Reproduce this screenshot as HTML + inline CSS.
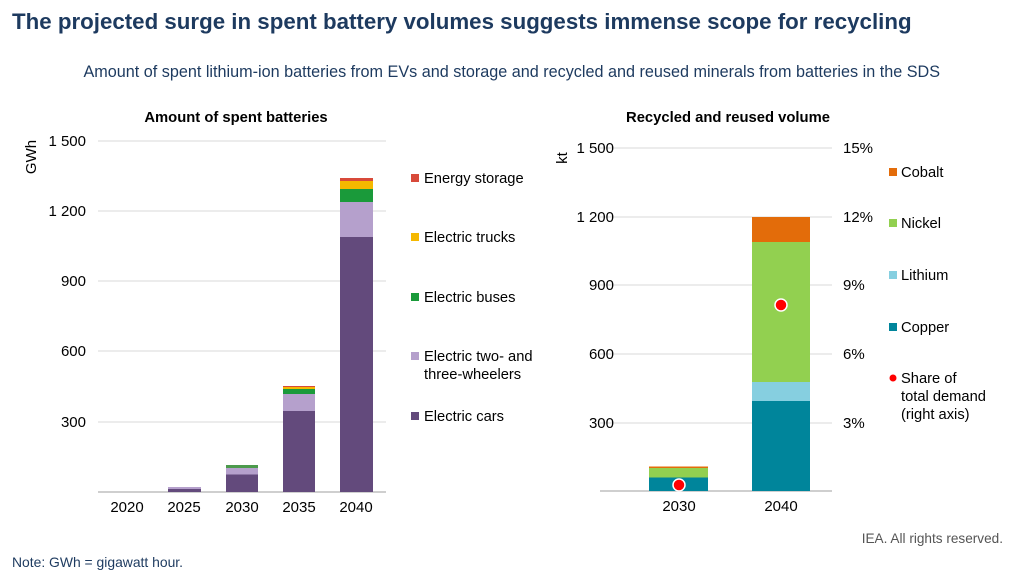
<!DOCTYPE html>
<html><head><meta charset="utf-8"><style>
body{margin:0;background:#fff;font-family:"Liberation Sans",sans-serif;}
</style></head><body>
<svg width="1024" height="583" viewBox="0 0 1024 583" xmlns="http://www.w3.org/2000/svg" font-family="Liberation Sans, sans-serif">
<rect width="1024" height="583" fill="#fff"/>
<text x="12" y="29" font-size="22.3" font-weight="bold" fill="#1d3a5f">The projected surge in spent battery volumes suggests immense scope for recycling</text>
<text x="940" y="77" font-size="16.2" fill="#1d3a5f" text-anchor="end">Amount of spent lithium-ion batteries from EVs and storage and recycled and reused minerals from batteries in the SDS</text>
<text x="236" y="122" font-size="14.8" font-weight="bold" text-anchor="middle" fill="#000">Amount of spent batteries</text>
<text x="728" y="122" font-size="14.8" font-weight="bold" text-anchor="middle" fill="#000">Recycled and reused volume</text>
<g stroke="#d9d9d9" stroke-width="1">
<line x1="98" x2="386" y1="141" y2="141"/><line x1="98" x2="386" y1="211" y2="211"/><line x1="98" x2="386" y1="281" y2="281"/><line x1="98" x2="386" y1="351" y2="351"/><line x1="98" x2="386" y1="422" y2="422"/>
</g>
<line x1="98" x2="386" y1="492" y2="492" stroke="#bfbfbf" stroke-width="1.5"/>
<g font-size="15" fill="#000" text-anchor="end">
<text x="86" y="146">1 500</text><text x="86" y="216">1 200</text><text x="86" y="286">900</text><text x="86" y="356">600</text><text x="86" y="427">300</text>
</g>
<text transform="translate(36,157) rotate(-90)" font-size="15" text-anchor="middle">GWh</text>
<g font-size="15" text-anchor="middle">
<text x="127" y="512">2020</text><text x="184" y="512">2025</text><text x="242" y="512">2030</text><text x="299" y="512">2035</text><text x="356" y="512">2040</text>
</g>
<rect x="168" y="489" width="33" height="3" fill="#634a7c"/><rect x="168" y="487" width="33" height="2" fill="#b5a0cc"/>
<rect x="226" y="474.5" width="32" height="17.5" fill="#634a7c"/><rect x="226" y="468" width="32" height="6.5" fill="#b5a0cc"/><rect x="226" y="465" width="32" height="3" fill="#4c9a4c"/>
<rect x="283" y="411" width="32" height="81" fill="#634a7c"/><rect x="283" y="394" width="32" height="17" fill="#b5a0cc"/><rect x="283" y="389" width="32" height="5" fill="#1a9a3a"/><rect x="283" y="387" width="32" height="2" fill="#f5b800"/><rect x="283" y="386" width="32" height="1" fill="#d84a3a"/>
<rect x="340" y="237" width="33" height="255" fill="#634a7c"/><rect x="340" y="202" width="33" height="35" fill="#b5a0cc"/><rect x="340" y="189" width="33" height="13" fill="#1a9a3a"/><rect x="340" y="181" width="33" height="8" fill="#f5b800"/><rect x="340" y="178" width="33" height="3" fill="#d84a3a"/>
<g font-size="14.7" fill="#000">
<rect x="411" y="174" width="8" height="8" fill="#d84a3a"/><text x="424" y="183">Energy storage</text>
<rect x="411" y="233" width="8" height="8" fill="#f5b800"/><text x="424" y="242">Electric trucks</text>
<rect x="411" y="293" width="8" height="8" fill="#1a9a3a"/><text x="424" y="302">Electric buses</text>
<rect x="411" y="352" width="8" height="8" fill="#b5a0cc"/><text x="424" y="361">Electric two- and</text><text x="424" y="379">three-wheelers</text>
<rect x="411" y="412" width="8" height="8" fill="#634a7c"/><text x="424" y="421">Electric cars</text>
</g>
<g stroke="#d9d9d9" stroke-width="1">
<line x1="600" x2="832" y1="148" y2="148"/><line x1="600" x2="832" y1="217" y2="217"/><line x1="600" x2="832" y1="285" y2="285"/><line x1="600" x2="832" y1="354" y2="354"/><line x1="600" x2="832" y1="423" y2="423"/>
</g>
<line x1="600" x2="832" y1="491" y2="491" stroke="#bfbfbf" stroke-width="1.5"/>
<g font-size="15" text-anchor="end">
<text x="614" y="153">1 500</text><text x="614" y="222">1 200</text><text x="614" y="290">900</text><text x="614" y="359">600</text><text x="614" y="428">300</text>
</g>
<g font-size="15">
<text x="843" y="153">15%</text><text x="843" y="222">12%</text><text x="843" y="290">9%</text><text x="843" y="359">6%</text><text x="843" y="428">3%</text>
</g>
<text transform="translate(567,158) rotate(-90)" font-size="15" text-anchor="middle">kt</text>
<g font-size="15" text-anchor="middle"><text x="679" y="511">2030</text><text x="781" y="511">2040</text></g>
<rect x="649" y="477.5" width="59" height="13.5" fill="#00859b"/><rect x="649" y="468" width="59" height="9.5" fill="#92d050"/><rect x="649" y="466.5" width="59" height="1.5" fill="#e36c0a"/>
<rect x="752" y="401" width="58" height="90" fill="#00859b"/><rect x="752" y="382" width="58" height="19" fill="#86cfe0"/><rect x="752" y="242" width="58" height="140" fill="#92d050"/><rect x="752" y="217" width="58" height="25" fill="#e36c0a"/>
<circle cx="679" cy="485" r="6" fill="#f00" stroke="#fff" stroke-width="1.5"/>
<circle cx="781" cy="305" r="6" fill="#f00" stroke="#fff" stroke-width="1.5"/>
<g font-size="14.7">
<rect x="889" y="168" width="8" height="8" fill="#e36c0a"/><text x="901" y="177">Cobalt</text>
<rect x="889" y="219" width="8" height="8" fill="#92d050"/><text x="901" y="228">Nickel</text>
<rect x="889" y="271" width="8" height="8" fill="#86cfe0"/><text x="901" y="280">Lithium</text>
<rect x="889" y="323" width="8" height="8" fill="#00859b"/><text x="901" y="332">Copper</text>
<circle cx="893" cy="378" r="3.5" fill="#f00"/><text x="901" y="383">Share of</text><text x="901" y="401">total demand</text><text x="901" y="419">(right axis)</text>
</g>
<text x="1003" y="543" font-size="13.6" fill="#555" text-anchor="end">IEA. All rights reserved.</text>
<text x="12" y="567" font-size="13.9" fill="#1d3a5f">Note: GWh = gigawatt hour.</text>
</svg>
</body></html>
